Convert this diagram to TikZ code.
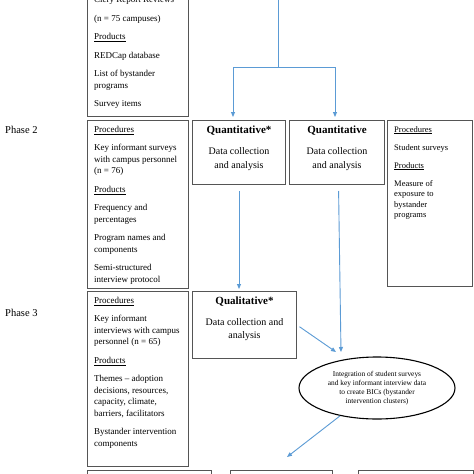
\documentclass[tikz,border=0pt]{standalone}
\usepackage{fontspec}
\setmainfont{Liberation Serif}
\usetikzlibrary{arrows.meta,shapes.geometric}
\definecolor{flowblue}{RGB}{91,155,213}
\definecolor{boxgray}{RGB}{85,85,85}

\begin{document}
\begin{tikzpicture}[x=1pt,y=1pt,
  panel/.style={draw=boxgray,line width=1pt,anchor=north west,inner sep=0pt},
  paneltext/.style={anchor=north west,inner xsep=7pt,inner ysep=6pt,align=left,font=\fontsize{9}{11.5}\selectfont},
  methtext/.style={anchor=north,inner sep=0pt,align=center,font=\fontsize{10}{14}\selectfont},
  phase/.style={anchor=west,inner sep=0pt,font=\fontsize{10.5}{12}\selectfont},
  flowline/.style={draw=flowblue,line width=0.9pt},
  flow/.style={flowline,-{Triangle[length=5pt,width=4pt]}}]
  \useasboundingbox (0,0) rectangle (474,-474);
  \fill[white] (0,0) rectangle (474,-474);

  \node[phase] (ph2) at (5,-130) {Phase 2};
  \node[phase] (ph3) at (5,-313) {Phase 3};

  \node[panel,minimum width=101,minimum height=160] (rev) at (87,44) {};
  \node[paneltext,anchor=south west,inner ysep=8pt] (revtext) at (rev.south west)
    {Clery Report Reviews\\[7pt] (n = 75 campuses)\\[7pt] \underline{Products}\\[7pt]
     REDCap database\\[7pt] List of bystander\\ programs\\[7pt] Survey items};

  \node[panel,minimum width=101,minimum height=168] (proc2) at (87,-120) {};
  \node[paneltext] (proc2text) at (proc2.north west)
    {\underline{Procedures}\\[7pt] Key informant surveys\\ with campus personnel\\ (n = 76)\\[7pt]
     \underline{Products}\\[7pt] Frequency and\\ percentages\\[7pt] Program names and\\ components\\[7pt]
     Semi-structured\\ interview protocol};

  \node[panel,minimum width=101,minimum height=175] (proc3) at (87,-291) {};
  \node[paneltext] (proc3text) at (proc3.north west)
    {\underline{Procedures}\\[7pt] Key informant\\ interviews with campus\\ personnel (n = 65)\\[7pt]
     \underline{Products}\\[7pt] Themes -- adoption\\ decisions, resources,\\ capacity, climate,\\
     barriers, facilitators\\[7pt] Bystander intervention\\ components};

  \node[panel,minimum width=93,minimum height=64] (qs) at (192,-120) {};
  \node[methtext,inner ysep=6pt] (qstext) at (qs.north)
    {{\fontsize{11}{14}\selectfont\bfseries Quantitative*}\\[6.5pt] Data collection\\ and analysis};

  \node[panel,minimum width=95,minimum height=64] (qn) at (289,-120) {};
  \node[methtext,inner ysep=6pt] (qntext) at (qn.north)
    {{\fontsize{11}{14}\selectfont\bfseries Quantitative}\\[6.5pt] Data collection\\ and analysis};

  \node[panel,minimum width=85,minimum height=166] (sv) at (387,-120) {};
  \node[paneltext,font=\fontsize{8.5}{10.5}\selectfont] (svtext) at (sv.north west)
    {\underline{Procedures}\\[7.5pt] Student surveys\\[7.5pt] \underline{Products}\\[7.5pt]
     Measure of\\ exposure to\\ bystander\\ programs};

  \node[panel,minimum width=104,minimum height=67] (ql) at (192,-291) {};
  \node[methtext,inner ysep=6pt,font=\fontsize{10}{13}\selectfont] (qltext) at (ql.north)
    {{\fontsize{11}{13}\selectfont\bfseries Qualitative*}\\[7.5pt] Data collection and\\ analysis};

  \node[draw=black,line width=1.1pt,ellipse,inner sep=0pt,minimum width=156,minimum height=62,
        align=center,font=\fontsize{7.4}{9.2}\selectfont] (bic) at (377,-388)
    {Integration of student surveys\\ and key informant interview data\\ to create BICs (bystander\\ intervention clusters)};

  \node[panel,minimum width=124,minimum height=40] (out1) at (87,-470) {};
  \node[panel,minimum width=102,minimum height=40] (out2) at (230,-470) {};
  \node[panel,minimum width=115,minimum height=40] (out3) at (358,-470) {};

  \coordinate (src) at (278,10);
  \coordinate (fork) at (278,-67);
  \coordinate (forkl) at (233,-67);
  \coordinate (forkr) at (335,-67);
  \coordinate (bicin) at (341,-352);
  \coordinate (bicin2) at (336,-352);
  \coordinate (bicout) at (287,-457);

  \draw[flowline] (src) -- (fork);
  \draw[flowline] (forkl) -- (forkr);
  \draw[flow,shorten >=3pt] (forkl) -- (forkl |- qs.north);
  \draw[flow,shorten >=3pt] (forkr) -- (forkr |- qn.north);
  \draw[flow,shorten <=6pt,shorten >=2pt] (qs.south) -- (qs.south |- ql.north);
  \draw[flow,shorten <=6pt] ([xshift=1.5pt]qn.south) -- (bicin);
  \draw[flow,shorten <=3pt] (ql.east) -- (bicin2);
  \draw[flow] (bic.-143) -- (bicout);
\end{tikzpicture}
\end{document}
